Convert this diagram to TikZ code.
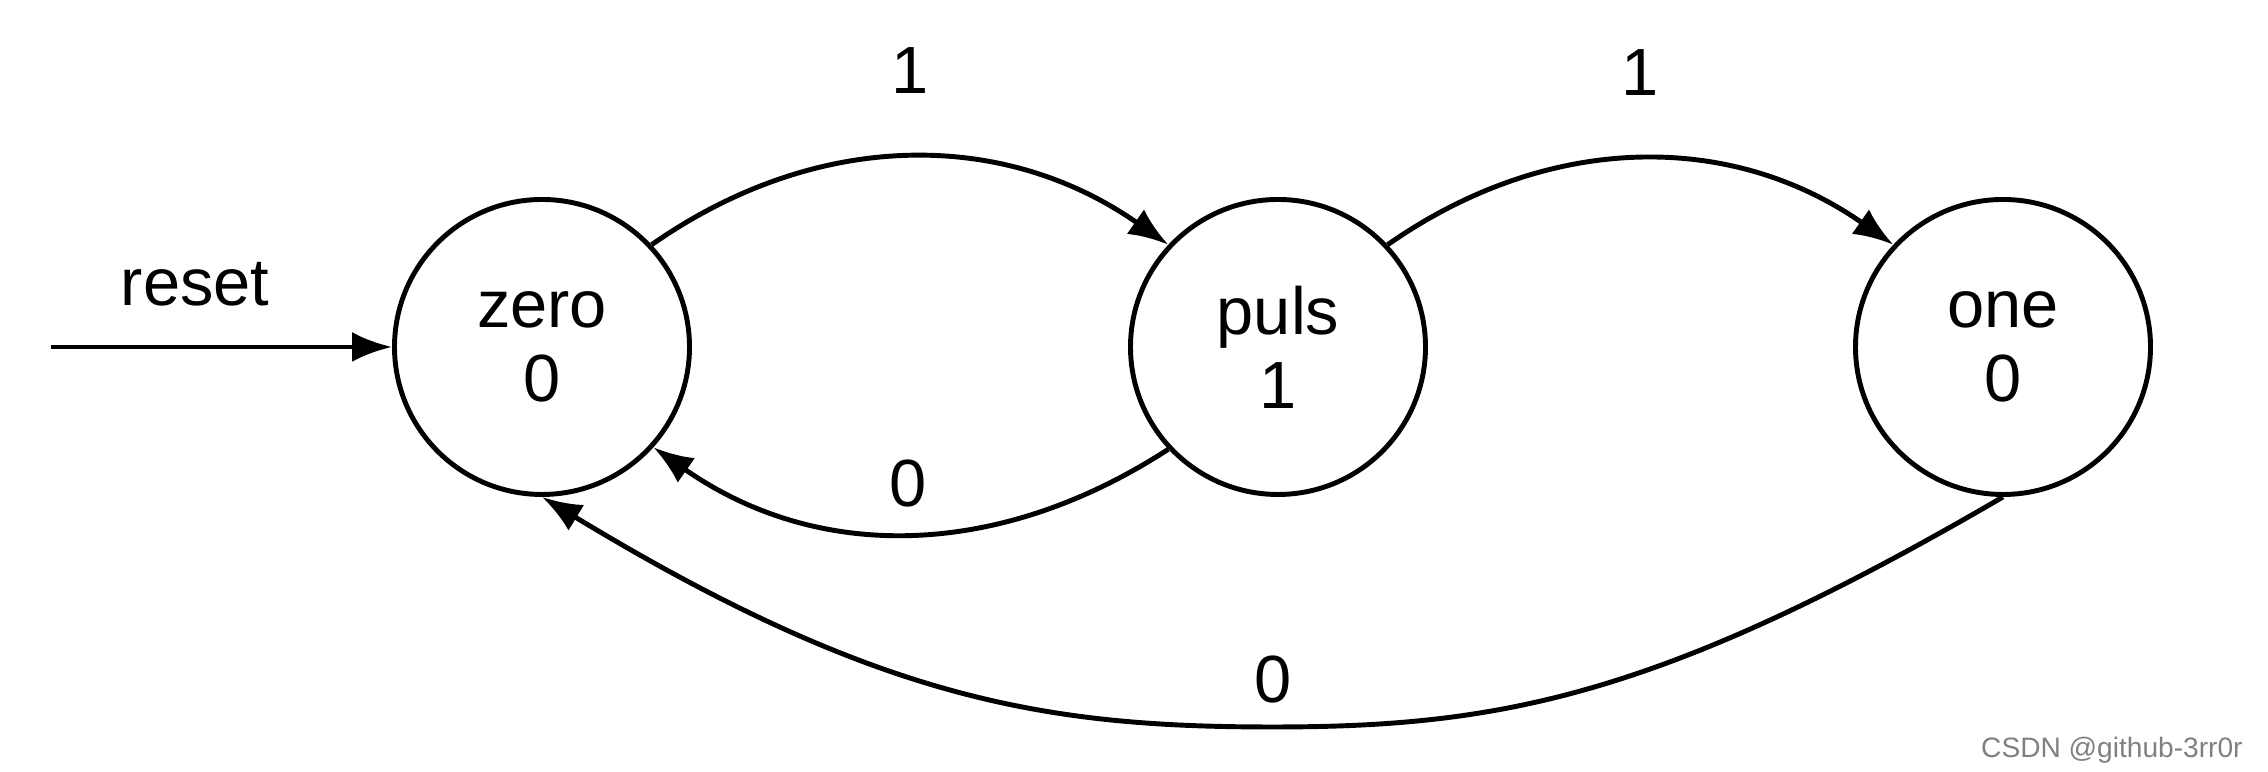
\documentclass[tikz,border=0pt]{standalone}
\usepackage{fontspec}
\setmainfont{Liberation Sans}
\usetikzlibrary{arrows.meta,positioning}
\tikzset{
  state/.style={circle,draw,line width=1.4pt,minimum size=2.95cm,inner sep=0pt,align=center,font=\fontsize{19}{21}\selectfont},
  edge/.style={line width=1.4pt,-{Latex[length=0.4cm,width=0.3cm]}},
  lbl/.style={font=\fontsize{19}{22}\selectfont},
}
\begin{document}
\begin{tikzpicture}
    \useasboundingbox (0,0) rectangle (22.68,7.72);

    \node[state] (zero) at (5.42,4.25) {zero\\0};
    \node[state] (puls) at (12.78,4.25) {puls\\1};
    \node[state] (one) at (20.03,4.25) {one\\0};

    \coordinate (start) at (0.51,4.25);
    \draw[edge] (start) -- (zero);
    \node[lbl] (reset) at (1.95,4.88) {reset};

    \draw[edge] (zero.43) to[out=35,in=145] node[lbl,above=0.5cm] (l1) {1} (puls.137);
    \draw[edge] (puls.43) to[out=35,in=145] node[lbl,above=0.5cm] (l2) {1} (one.137);

    \draw[edge] (puls.223) to[out=213,in=-35] (zero.-42);
    \node[lbl] (l3) at (9.08,2.88) {0};

    \coordinate (bot) at (12.73,0.45);
    \draw[edge] (one.south) .. controls (16.6,0.75) and (15,0.45) .. (bot)
        .. controls (10.5,0.45) and (8.8,0.7) .. (zero.south);
    \node[lbl] (l4) at (12.73,0.92) {0};

    \node[font=\fontsize{8}{9}\selectfont,text=gray,anchor=east] (mark) at (22.55,0.22) {CSDN @github-3rr0r};
\end{tikzpicture}
\end{document}
